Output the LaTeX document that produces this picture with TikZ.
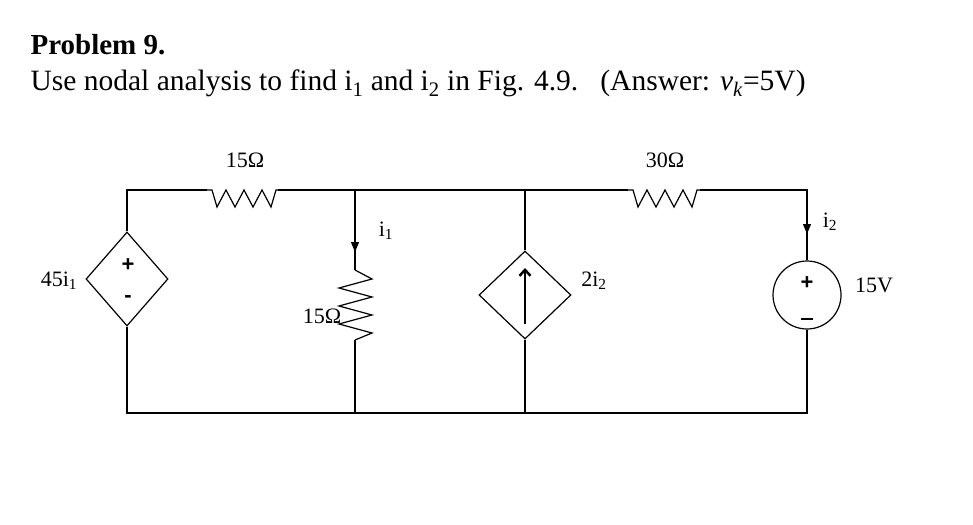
\documentclass[tikz,border=0pt]{standalone}
\usepackage{fontspec}
\setmainfont{Liberation Serif}
\newfontfamily\sansf{Liberation Sans}
\usetikzlibrary{shapes.geometric,arrows.meta}
\newcommand{\sbs}[1]{\textsubscript{#1}}
\begin{document}
\begin{tikzpicture}[x=1pt,y=-1pt,line width=1.2pt,
  lbl/.style={inner sep=0pt,font=\fontsize{22}{22}\selectfont},
  arr/.style={-{Triangle[length=10pt,width=8pt]}}]
\useasboundingbox (0,0) rectangle (973,524);
\node[anchor=base west,inner sep=0pt,font=\fontsize{29}{29}\selectfont\bfseries] (t1) at (30,55) {Problem 9.};
\node[anchor=base west,inner sep=0pt,font=\fontsize{29.5}{29}\selectfont] (t2) at (30,91) {Use nodal analysis to find i\sbs{1} and i\sbs{2} in Fig. 4.9.\ \ \ (Answer: \textit{v}\sbs{\textit{k}}=5V)};
% coordinates
\coordinate (tl) at (127,190);
\coordinate (r1a) at (207,190);
\coordinate (r1b) at (278,190);
\coordinate (n1) at (355,190);
\coordinate (n2) at (525,190);
\coordinate (r2a) at (628,190);
\coordinate (r2b) at (700,190);
\coordinate (tr) at (807,190);
\coordinate (bl) at (127,413);
\coordinate (b1) at (355,413);
\coordinate (b2) at (525,413);
\coordinate (br) at (807,413);
\coordinate (r3a) at (355,270);
\coordinate (r3b) at (355,340);
% sources
\node[draw,diamond,minimum width=82pt,minimum height=94pt,inner sep=0pt] (d1) at (127,279) {};
\node[font=\sansf\fontsize{22}{22}\selectfont\bfseries,inner sep=0pt] (p1) at (128,265) {+};
\node[font=\sansf\fontsize{22}{22}\selectfont\bfseries,inner sep=0pt] (m1) at (128,299) {-};
\node[draw,diamond,minimum width=92pt,minimum height=88pt,inner sep=0pt] (d2) at (525,295) {};
\coordinate (ua) at (525,324);
\coordinate (ub) at (525,268);
\draw[line width=2.5pt,-{Straight Barb[length=6pt,width=11pt]}] (ua) -- (ub);
\node[draw,circle,minimum size=68pt,inner sep=0pt] (vs) at (807,295) {};
\node[font=\sansf\fontsize{22}{22}\selectfont\bfseries,inner sep=0pt] (p2) at (807,283) {+};
\node[inner sep=0pt] (m2) at (807,319) {\rule{12pt}{2.2pt}};
% wires
\draw (d1.north) -- (tl) -- (r1a);
\draw (r1a) -- ++(5,0) -- ++(5,17) -- ++(9,-17) -- ++(9,17) -- ++(9,-17) -- ++(9,17) -- ++(9,-17) -- ++(9,17) -- ++(5,-17) -- (r1b);
\draw (r1b) -- (n1) -- (n2) -- (r2a);
\draw (r2a) -- ++(5,0) -- ++(5,17) -- ++(9,-17) -- ++(9,17) -- ++(9,-17) -- ++(9,17) -- ++(9,-17) -- ++(9,17) -- ++(5,-17) -- (r2b);
\draw (r2b) -- (tr) -- (vs.north);
\draw[arr] (tr) -- (807,234);
\draw (n1) -- (r3a);
\draw[arr] (n1) -- (355,252);
\draw (r3a) -- ++(17,9) -- ++(-33,9) -- ++(33,9) -- ++(-33,9) -- ++(33,9) -- ++(-33,9) -- ++(33,9) -- ++(-17,7) -- (r3b);
\draw (r3b) -- (b1);
\draw (n2) -- (d2.north);
\draw (d2.south) -- (b2);
\draw (d1.south) -- (bl) -- (b1) -- (b2) -- (br) -- (vs.south);
% labels
\node[lbl] (l1) at (245,160) {15Ω};
\node[lbl] (l2) at (665,160) {30Ω};
\node[lbl] (l3) at (322,316) {15Ω};
\node[lbl] (l4) at (386,231) {i\sbs{1}};
\node[lbl] (l5) at (830,222) {i\sbs{2}};
\node[lbl] (l6) at (594,281) {2i\sbs{2}};
\node[lbl] (l7) at (874,285) {15V};
\node[lbl] (l8) at (59,281) {45i\sbs{1}};
\end{tikzpicture}
\end{document}
